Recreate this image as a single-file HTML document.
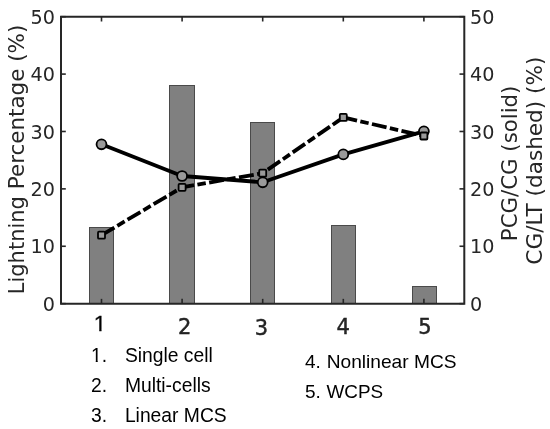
<!DOCTYPE html>
<html><head><meta charset="utf-8"><style>
html,body{margin:0;padding:0;background:#fff;}
body{width:550px;height:429px;overflow:hidden;position:relative;}
svg{position:absolute;left:0;top:0;}
.dj{font-family:"DejaVu Sans",sans-serif;fill:#262626;}
.ls{font-family:"Liberation Sans",Arial,sans-serif;fill:#000;}
</style></head><body>
<svg width="550" height="429" viewBox="0 0 550 429">

<rect x="89.5" y="227.5" width="24" height="76.15" fill="#808080" stroke="#4a4a4a" stroke-width="1" shape-rendering="crispEdges"/>
<rect x="169.5" y="85.5" width="25" height="218.15" fill="#808080" stroke="#4a4a4a" stroke-width="1" shape-rendering="crispEdges"/>
<rect x="250.5" y="122.5" width="24" height="181.15" fill="#808080" stroke="#4a4a4a" stroke-width="1" shape-rendering="crispEdges"/>
<rect x="331.5" y="225.5" width="24" height="78.15" fill="#808080" stroke="#4a4a4a" stroke-width="1" shape-rendering="crispEdges"/>
<rect x="412.5" y="286.5" width="24" height="17.15" fill="#808080" stroke="#4a4a4a" stroke-width="1" shape-rendering="crispEdges"/>
<g stroke="#262626" fill="none" stroke-linecap="square">
<path d="M61 303.65 V16.7 H464.3 V303.65 Z" stroke-width="2" stroke-linejoin="miter"/>
<line x1="101.50" y1="303.65" x2="101.50" y2="298.85" stroke-width="1.6" stroke-linecap="butt"/>
<line x1="101.50" y1="16.7" x2="101.50" y2="21.50" stroke-width="1.6" stroke-linecap="butt"/>
<line x1="182.10" y1="303.65" x2="182.10" y2="298.85" stroke-width="1.6" stroke-linecap="butt"/>
<line x1="182.10" y1="16.7" x2="182.10" y2="21.50" stroke-width="1.6" stroke-linecap="butt"/>
<line x1="262.70" y1="303.65" x2="262.70" y2="298.85" stroke-width="1.6" stroke-linecap="butt"/>
<line x1="262.70" y1="16.7" x2="262.70" y2="21.50" stroke-width="1.6" stroke-linecap="butt"/>
<line x1="343.30" y1="303.65" x2="343.30" y2="298.85" stroke-width="1.6" stroke-linecap="butt"/>
<line x1="343.30" y1="16.7" x2="343.30" y2="21.50" stroke-width="1.6" stroke-linecap="butt"/>
<line x1="423.90" y1="303.65" x2="423.90" y2="298.85" stroke-width="1.6" stroke-linecap="butt"/>
<line x1="423.90" y1="16.7" x2="423.90" y2="21.50" stroke-width="1.6" stroke-linecap="butt"/>
<line x1="61" y1="303.65" x2="65.8" y2="303.65" stroke-width="1.6" stroke-linecap="butt"/>
<line x1="464.3" y1="303.65" x2="459.5" y2="303.65" stroke-width="1.6" stroke-linecap="butt"/>
<line x1="61" y1="246.26" x2="65.8" y2="246.26" stroke-width="1.6" stroke-linecap="butt"/>
<line x1="464.3" y1="246.26" x2="459.5" y2="246.26" stroke-width="1.6" stroke-linecap="butt"/>
<line x1="61" y1="188.87" x2="65.8" y2="188.87" stroke-width="1.6" stroke-linecap="butt"/>
<line x1="464.3" y1="188.87" x2="459.5" y2="188.87" stroke-width="1.6" stroke-linecap="butt"/>
<line x1="61" y1="131.48" x2="65.8" y2="131.48" stroke-width="1.6" stroke-linecap="butt"/>
<line x1="464.3" y1="131.48" x2="459.5" y2="131.48" stroke-width="1.6" stroke-linecap="butt"/>
<line x1="61" y1="74.09" x2="65.8" y2="74.09" stroke-width="1.6" stroke-linecap="butt"/>
<line x1="464.3" y1="74.09" x2="459.5" y2="74.09" stroke-width="1.6" stroke-linecap="butt"/>
<line x1="61" y1="16.70" x2="65.8" y2="16.70" stroke-width="1.6" stroke-linecap="butt"/>
<line x1="464.3" y1="16.70" x2="459.5" y2="16.70" stroke-width="1.6" stroke-linecap="butt"/>
</g>
<polyline points="101.50,144.30 182.10,176.00 262.70,182.30 343.30,154.40 423.90,131.30" fill="none" stroke="#000" stroke-width="3.8" stroke-linejoin="round"/>
<circle cx="101.50" cy="144.30" r="4.95" fill="#9a9a9a" stroke="#000" stroke-width="1.8"/>
<circle cx="182.10" cy="176.00" r="4.95" fill="#9a9a9a" stroke="#000" stroke-width="1.8"/>
<circle cx="262.70" cy="182.30" r="4.95" fill="#9a9a9a" stroke="#000" stroke-width="1.8"/>
<circle cx="343.30" cy="154.40" r="4.95" fill="#9a9a9a" stroke="#000" stroke-width="1.8"/>
<circle cx="423.90" cy="131.30" r="4.95" fill="#9a9a9a" stroke="#000" stroke-width="1.8"/>
<polyline points="101.50,235.20 182.10,187.30 262.70,173.20 343.30,117.40 423.90,136.00" fill="none" stroke="#000" stroke-width="3.8" stroke-dasharray="15 3.4 8.5 3.4" stroke-dashoffset="0"/>
<rect x="98.00" y="231.70" width="7.0" height="7.0" rx="1" fill="#9a9a9a" stroke="#000" stroke-width="1.8" stroke-linejoin="round"/>
<rect x="178.60" y="183.80" width="7.0" height="7.0" rx="1" fill="#9a9a9a" stroke="#000" stroke-width="1.8" stroke-linejoin="round"/>
<rect x="259.20" y="169.70" width="7.0" height="7.0" rx="1" fill="#9a9a9a" stroke="#000" stroke-width="1.8" stroke-linejoin="round"/>
<rect x="339.80" y="113.90" width="7.0" height="7.0" rx="1" fill="#9a9a9a" stroke="#000" stroke-width="1.8" stroke-linejoin="round"/>
<rect x="420.40" y="132.50" width="7.0" height="7.0" rx="1" fill="#9a9a9a" stroke="#000" stroke-width="1.8" stroke-linejoin="round"/>
<text class="dj" x="55" y="310.75" font-size="19.2" text-anchor="end">0</text>
<text class="dj" x="470" y="310.75" font-size="19.2">0</text>
<text class="dj" x="55" y="253.36" font-size="19.2" text-anchor="end">10</text>
<text class="dj" x="470" y="253.36" font-size="19.2">10</text>
<text class="dj" x="55" y="195.97" font-size="19.2" text-anchor="end">20</text>
<text class="dj" x="470" y="195.97" font-size="19.2">20</text>
<text class="dj" x="55" y="138.58" font-size="19.2" text-anchor="end">30</text>
<text class="dj" x="470" y="138.58" font-size="19.2">30</text>
<text class="dj" x="55" y="81.19" font-size="19.2" text-anchor="end">40</text>
<text class="dj" x="470" y="81.19" font-size="19.2">40</text>
<text class="dj" x="55" y="23.80" font-size="19.2" text-anchor="end">50</text>
<text class="dj" x="470" y="23.80" font-size="19.2">50</text>
<clipPath id="c55"><rect x="91.8" y="304.24" width="22.3" height="24.80"/><rect x="99.25" y="308.70" width="2.26" height="28.99"/></clipPath>
<text class="ls" clip-path="url(#c55)" x="93.80" y="331" font-size="22.3" fill="#111" stroke="#111" stroke-width="0.3">1</text>
<text class="dj" x="184.8" y="333.9" font-size="21" text-anchor="middle" fill="#111" stroke="#111" stroke-width="0.4">2</text>
<text class="dj" x="261.4" y="335.0" font-size="21" text-anchor="middle" fill="#111" stroke="#111" stroke-width="0.4">3</text>
<text class="dj" x="343.2" y="333.7" font-size="21" text-anchor="middle" fill="#111" stroke="#111" stroke-width="0.4">4</text>
<text class="dj" x="425.0" y="333.6" font-size="21" text-anchor="middle" fill="#111" stroke="#111" stroke-width="0.4">5</text>
<text class="dj" transform="translate(23.5,294.2) rotate(-90)" font-size="20.97">Lightning</text>
<text class="dj" transform="translate(23.5,189.2) rotate(-90)" font-size="21.45">Percentage (%)</text>
<text class="dj" transform="translate(517,163.4) rotate(-90)" font-size="21.3" text-anchor="middle">PCG/CG (solid)</text>
<text class="dj" transform="translate(542,160.6) rotate(-90)" font-size="21.6" text-anchor="middle">CG/LT (dashed) (%)</text>
<clipPath id="c65"><rect x="89.05" y="338.64" width="19.3" height="21.46"/><rect x="95.74" y="342.50" width="2.00" height="25.09"/></clipPath>
<text class="ls" clip-path="url(#c65)" x="91.05" y="361.8" font-size="19.3" fill="#000" >1</text>
<text class="ls" x="101.78" y="361.8" font-size="19.3">.</text>
<text class="ls" x="124.9" y="361.8" font-size="19.3">Single cell</text>
<text class="ls" x="91.0" y="392.2" font-size="19.3">2.</text>
<text class="ls" x="124.9" y="392.2" font-size="19.3">Multi-cells</text>
<text class="ls" x="91.0" y="422.2" font-size="19.3">3.</text>
<text class="ls" x="124.9" y="422.2" font-size="19.3">Linear MCS</text>
<text class="ls" x="305.0" y="368.1" font-size="19">4.</text>
<text class="ls" x="326.7" y="368.1" font-size="19.15">Nonlinear MCS</text>
<text class="ls" x="305.0" y="398.3" font-size="19">5.</text>
<text class="ls" x="326.5" y="398.3" font-size="18.9">WCPS</text>
</svg></body></html>
